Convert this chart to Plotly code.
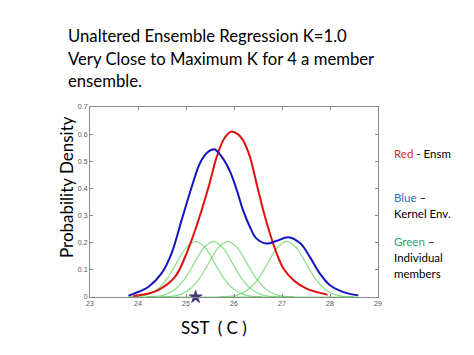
import plotly.graph_objects as go

# ---- data ----
red_x = [23.9, 24.2, 24.42, 24.77, 25.01, 25.26, 25.47, 25.64, 25.8, 25.95, 26.08, 26.19, 26.33, 26.47, 26.61, 26.75, 26.89, 27.03, 27.24, 27.51, 27.75, 27.95]
red_y = [0.004, 0.012, 0.025, 0.074, 0.160, 0.283, 0.405, 0.516, 0.585, 0.610, 0.600, 0.577, 0.517, 0.418, 0.319, 0.233, 0.160, 0.105, 0.062, 0.031, 0.017, 0.008]

blue_x = [23.8, 23.94, 24.22, 24.49, 24.70, 24.91, 25.12, 25.29, 25.45, 25.59, 25.75, 25.92, 26.06, 26.19, 26.33, 26.47, 26.68, 26.89, 27.13, 27.38, 27.58, 27.79, 28.0, 28.28, 28.59]
blue_y = [0.005, 0.014, 0.038, 0.087, 0.161, 0.284, 0.406, 0.493, 0.533, 0.544, 0.515, 0.461, 0.393, 0.319, 0.259, 0.215, 0.197, 0.207, 0.220, 0.198, 0.148, 0.086, 0.043, 0.018, 0.006]

member_centers = [25.2, 25.57, 25.87, 27.1]
kernel_offsets = [-1.4, -1.2, -1.0, -0.8, -0.6, -0.4, -0.2, 0.0, 0.2, 0.4, 0.6, 0.8, 1.0, 1.2, 1.4]
kernel_values = [0.0004, 0.0022, 0.009, 0.028, 0.066, 0.124, 0.181, 0.205, 0.181, 0.124, 0.066, 0.028, 0.009, 0.0022, 0.0004]
support_x = [23.8, 28.6]

obs_x = [25.2]
obs_y = [0.0]

x_ticks = [23, 24, 25, 26, 27, 28, 29]
y_ticks = [0, 0.1, 0.2, 0.3, 0.4, 0.5, 0.6, 0.7]

fig = go.Figure()
green = "rgba(70,205,70,0.65)"
fig.add_trace(go.Scatter(x=support_x, y=[0, 0], mode="lines",
                         line=dict(color=green, width=1.2), hoverinfo="skip"))
for c in member_centers:
    fig.add_trace(go.Scatter(x=[c + o for o in kernel_offsets], y=kernel_values,
                             mode="lines", line=dict(color=green, width=1.2, shape="spline"),
                             hoverinfo="skip"))
fig.add_trace(go.Scatter(x=red_x, y=red_y, mode="lines",
                         line=dict(color="#e01010", width=2, shape="spline")))
fig.add_trace(go.Scatter(x=blue_x, y=blue_y, mode="lines",
                         line=dict(color="#1414c0", width=2, shape="spline")))
fig.add_trace(go.Scatter(x=obs_x, y=obs_y, mode="markers",
                         marker=dict(symbol="star", size=10, color="#46387a",
                                     line=dict(color="#2a2a60", width=0.5)),
                         cliponaxis=False))

axis_common = dict(showgrid=False, zeroline=False, showline=True, linecolor="#8a8a8a",
                   linewidth=1, mirror="ticks", ticks="inside", ticklen=3,
                   tickcolor="#8a8a8a", tickfont=dict(size=7, color="#555555",
                                                      family="Liberation Sans"))
fig.update_xaxes(range=[23, 29], tickvals=x_ticks, ticktext=[str(v) for v in x_ticks],
                 **axis_common)
fig.update_yaxes(range=[0, 0.7], tickvals=y_ticks,
                 ticktext=["0", "0.1", "0.2", "0.3", "0.4", "0.5", "0.6", "0.7"],
                 **axis_common)

# page body has an 8px margin: work in page pixels, shift into figure pixels
OFF = 8
W, H = 474 - OFF, 355 - OFF
L, R, T, B = 90 - OFF, 378 - OFF, 107 - OFF, 297 - OFF
def px(x):
    return (x - OFF - L) / (R - L)
def py(y):
    return (B - (y - OFF)) / (B - T)

annotations = []
title_lines = ["Unaltered Ensemble Regression K=1.0",
               "Very Close to Maximum K for 4 a member",
               "ensemble."]
for i, t in enumerate(title_lines):
    annotations.append(dict(text=t, x=px(66), y=py(36 + 22.5 * i), xref="paper", yref="paper",
                            xanchor="left", yanchor="middle", showarrow=False,
                            font=dict(size=16.7, color="black", family="Lato")))
annotations.append(dict(text="Probability Density", x=px(66), y=py(187), xref="paper",
                        yref="paper", textangle=-90, showarrow=False,
                        xanchor="center", yanchor="middle",
                        font=dict(size=17, color="black", family="Lato")))
annotations.append(dict(text="SST  ( C )", x=px(214), y=py(327), xref="paper", yref="paper",
                        showarrow=False, xanchor="center", yanchor="middle",
                        font=dict(size=17, color="black", family="Lato")))
side = [("<span style='color:#d42a2a'>Red</span> - Ensm", 153),
        ("<span style='color:#2e75b6'>Blue</span> –", 197),
        ("Kernel Env.", 213),
        ("<span style='color:#2aa36a'>Green</span> –", 241),
        ("Individual", 257),
        ("members", 273)]
for t, yy in side:
    annotations.append(dict(text=t, x=px(392), y=py(yy), xref="paper", yref="paper",
                            xanchor="left", yanchor="middle", showarrow=False,
                            font=dict(size=11.5, color="black", family="Lato")))

fig.update_layout(width=W, height=H, margin=dict(l=L, r=W - R, t=T, b=H - B),
                  paper_bgcolor="white", plot_bgcolor="white", showlegend=False,
                  annotations=annotations)
fig.write_html("out.html")
